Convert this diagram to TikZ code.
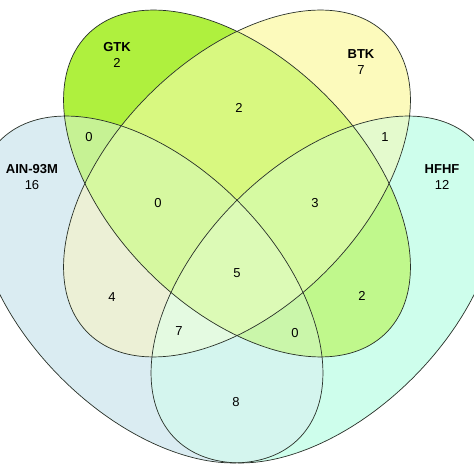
\documentclass[tikz,border=0pt]{standalone}
\usepackage{fontspec}
\setmainfont{Liberation Sans}
\usepackage{tikz}
\definecolor{VennLine}{RGB}{40,48,40}
\definecolor{RegA}{RGB}{218,236,242}
\definecolor{RegB}{RGB}{175,240,62}
\definecolor{RegC}{RGB}{252,250,188}
\definecolor{RegD}{RGB}{206,254,236}
\definecolor{RegAB}{RGB}{198,242,148}
\definecolor{RegAC}{RGB}{236,240,214}
\definecolor{RegAD}{RGB}{212,245,238}
\definecolor{RegBC}{RGB}{216,248,128}
\definecolor{RegBD}{RGB}{192,248,140}
\definecolor{RegCD}{RGB}{228,250,205}
\definecolor{RegABC}{RGB}{214,248,160}
\definecolor{RegABD}{RGB}{202,246,170}
\definecolor{RegACD}{RGB}{228,250,225}
\definecolor{RegBCD}{RGB}{214,250,162}
\definecolor{RegABCD}{RGB}{220,250,182}

\tikzset{
  ain/.style={shift={(149.5,184.5)}, rotate=135},
  gtk/.style={shift={(237,290.5)}, rotate=135},
  btk/.style={shift={(237,290.5)}, rotate=45},
  hfhf/.style={shift={(324.5,184.5)}, rotate=45},
  vline/.style={draw=VennLine, line width=0.7pt},
  vlabel/.style={font=\fontsize{13}{16}\selectfont, align=center, inner sep=0pt},
  vcount/.style={font=\fontsize{13}{16}\selectfont, inner sep=0pt},
}
\newcommand{\setclip}[1]{\clip[#1] (0,0) ellipse [x radius=211pt, y radius=125pt];}
\newcommand{\regionfill}[1]{\fill[#1] (0,0) rectangle (474,474);}

\begin{document}
\begin{tikzpicture}[x=1pt, y=1pt]
    \useasboundingbox (0,0) rectangle (474,474);
    \fill[white] (0,0) rectangle (474,474);
    \clip (0,0) rectangle (474,474);

    % regions, painted from one set up to all four
    \begin{scope}\setclip{ain}\regionfill{RegA}\end{scope}
    \begin{scope}\setclip{gtk}\regionfill{RegB}\end{scope}
    \begin{scope}\setclip{btk}\regionfill{RegC}\end{scope}
    \begin{scope}\setclip{hfhf}\regionfill{RegD}\end{scope}
    \begin{scope}\setclip{ain}\setclip{gtk}\regionfill{RegAB}\end{scope}
    \begin{scope}\setclip{ain}\setclip{btk}\regionfill{RegAC}\end{scope}
    \begin{scope}\setclip{ain}\setclip{hfhf}\regionfill{RegAD}\end{scope}
    \begin{scope}\setclip{gtk}\setclip{btk}\regionfill{RegBC}\end{scope}
    \begin{scope}\setclip{gtk}\setclip{hfhf}\regionfill{RegBD}\end{scope}
    \begin{scope}\setclip{btk}\setclip{hfhf}\regionfill{RegCD}\end{scope}
    \begin{scope}\setclip{ain}\setclip{gtk}\setclip{btk}\regionfill{RegABC}\end{scope}
    \begin{scope}\setclip{ain}\setclip{gtk}\setclip{hfhf}\regionfill{RegABD}\end{scope}
    \begin{scope}\setclip{ain}\setclip{btk}\setclip{hfhf}\regionfill{RegACD}\end{scope}
    \begin{scope}\setclip{gtk}\setclip{btk}\setclip{hfhf}\regionfill{RegBCD}\end{scope}
    \begin{scope}\setclip{ain}\setclip{gtk}\setclip{btk}\setclip{hfhf}\regionfill{RegABCD}\end{scope}

    % outlines
    \draw[vline, ain] (0,0) ellipse [x radius=211pt, y radius=125pt];
    \draw[vline, gtk] (0,0) ellipse [x radius=211pt, y radius=125pt];
    \draw[vline, btk] (0,0) ellipse [x radius=211pt, y radius=125pt];
    \draw[vline, hfhf] (0,0) ellipse [x radius=211pt, y radius=125pt];

    % set names
    \node[vlabel] (lab-gtk) at (117,419) {\textbf{GTK}\\2};
    \node[vlabel] (lab-btk) at (361,411.5) {\textbf{BTK}\\7};
    \node[vlabel] (lab-ain) at (32,297) {\textbf{AIN-93M}\\16};
    \node[vlabel] (lab-hfhf) at (442,297) {\textbf{HFHF}\\12};

    % overlap counts
    \node[vcount] (n-ab) at (89,337) {0};
    \node[vcount] (n-bc) at (239,366) {2};
    \node[vcount] (n-cd) at (385,337) {1};
    \node[vcount] (n-abc) at (158,271) {0};
    \node[vcount] (n-bcd) at (315,271) {3};
    \node[vcount] (n-abcd) at (237,201) {5};
    \node[vcount] (n-ac) at (112,177) {4};
    \node[vcount] (n-bd) at (362,178) {2};
    \node[vcount] (n-acd) at (179,143) {7};
    \node[vcount] (n-abd) at (295,141) {0};
    \node[vcount] (n-ad) at (236,72) {8};
\end{tikzpicture}
\end{document}
